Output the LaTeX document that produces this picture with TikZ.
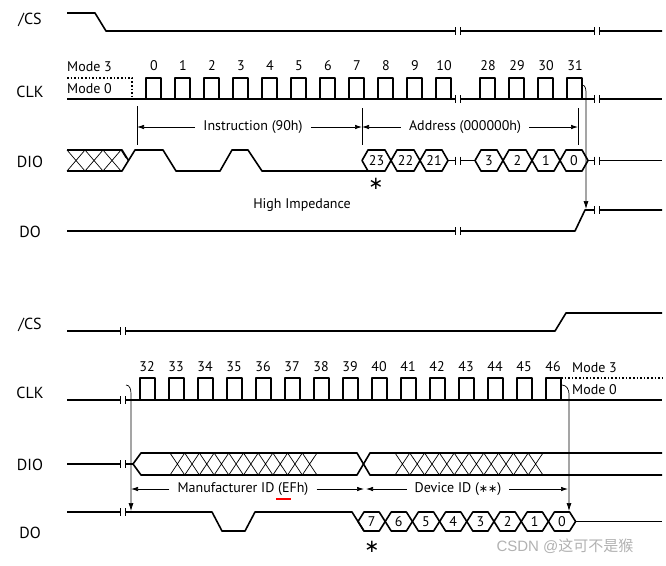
\documentclass[tikz,border=0pt]{standalone}
\usepackage{fontspec}
\setmainfont{PT Sans}
\newfontfamily\cjk{Noto Sans CJK SC}
\newfontfamily\dejavu{DejaVu Sans}
\usetikzlibrary{arrows.meta}
\tikzset{
 sig/.style={line width=1.6pt,line join=round},
 thinl/.style={line width=0.7pt},
 lab/.style={inner sep=0pt,font=\fontsize{14}{14}\selectfont},
 sname/.style={inner sep=0pt,font=\fontsize{16}{16}\selectfont},
 ast/.style={inner sep=0pt,font=\dejavu\fontsize{18}{18}\selectfont},
 dim/.style={line width=0.7pt,-{Latex[length=7pt,width=4.5pt]}},
 brd/.style={line width=0.7pt}
}
\newcommand\hexc[6]{\draw[sig] (#1,#3) -- (#1+6,#3-#4) -- (#2-6,#3-#4) -- (#2,#3) -- (#2-6,#3+#4) -- (#1+6,#3+#4) -- cycle;
 \node[lab] (#6) at ({(#1+#2)/2},#3) {#5};}
\newcommand\brk[2]{\fill[white] (#1-2.5,#2-3) rectangle (#1+2.5,#2+3);
 \draw[brd] (#1-2.5,#2-4) -- (#1-2.5,#2+4) (#1+2.5,#2-4) -- (#1+2.5,#2+4);}
\begin{document}
\begin{tikzpicture}[x=1pt,y=-1pt]
\fill[white] (0,0) rectangle (666,565);
\useasboundingbox (0,0) rectangle (666,565);
% ---------- top section ----------
\node[sname] (cs1) at (30,20) {/CS};
\node[sname] (clk1) at (30,92) {CLK};
\node[sname] (dio1) at (30,162) {DIO};
\node[sname] (do1) at (30,232) {DO};
% CS
\draw[sig] (67,13) -- (95,13) -- (106,31) -- (662,31);
\brk{458}{31}\brk{597}{31}
% CLK
\draw[sig] (67,99) -- (662,99);
\draw[line width=1.6pt,dotted] (67,78) -- (132,78) -- (132,99);
\node[lab,anchor=west] (m3a) at (67,67) {Mode 3};
\node[lab,anchor=west] (m0a) at (67,89) {Mode 0};
\foreach \k in {0,...,10}{
  \draw[sig] ({146+29*\k},99) -- ({146+29*\k},78) -- ({161+29*\k},78) -- ({161+29*\k},99);
  \node[lab] (ca\k) at ({154+29*\k},66) {\k};}
\foreach \k/\n in {0/28,1/29,2/30,3/31}{
  \draw[sig] ({480+29*\k},99) -- ({480+29*\k},78) -- ({495+29*\k},78) -- ({495+29*\k},99);
  \node[lab] (cb\n) at ({488+29*\k},66) {\n};}
\brk{458}{99}\brk{597}{99}
% brackets
\draw[thinl] (137,106) -- (137,145);
\draw[thinl] (362,108) -- (362,145);
\draw[thinl] (578,108) -- (578,145);
\node[lab] (ins) at (253,127) {Instruction (90h)};
\draw[dim] (ins.west)++(-8,0) -- (137,127);
\draw[dim] (ins.east)++(8,0) -- (362,127);
\node[lab] (adr) at (465,127) {Address (000000h)};
\draw[dim] (adr.west)++(-8,0) -- (362,127);
\draw[dim] (adr.east)++(8,0) -- (578,127);
% DIO
\draw[sig] (67,150) -- (122,150) -- (128.5,160.5);
\draw[sig] (67,171) -- (122,171) -- (135,150) -- (163,150) -- (176,171) -- (220,171) -- (232,150) -- (248,150) -- (262,171) -- (368,171);
\foreach \k in {0,1,2}{
  \draw[thinl] ({67+18*\k},150) -- ({85+18*\k},171) ({67+18*\k},171) -- ({85+18*\k},150);}
\draw[thinl] (121,150) -- (126,158);
\hexc{362}{391}{160.5}{10.5}{23}{h23}
\hexc{391}{420}{160.5}{10.5}{22}{h22}
\hexc{420}{448}{160.5}{10.5}{21}{h21}
\hexc{475}{503}{160.5}{10.5}{3}{h3}
\hexc{503}{532}{160.5}{10.5}{2}{h2}
\hexc{532}{560}{160.5}{10.5}{1}{h1}
\hexc{560}{588}{160.5}{10.5}{0}{h0}
\draw[sig] (448,160.5) -- (475,160.5);
\draw[sig] (588,160.5) -- (662,160.5);
\brk{458}{160.5}\brk{597}{160.5}
\node[ast] (ast1) at (376,184) {∗};
\node[lab] (hiz) at (302,205) {High Impedance};
% DO
\draw[sig] (67,231) -- (575,231) -- (585,210) -- (662,210);
\brk{458}{231}\brk{597}{210}
\draw[thinl,-{Latex[length=8pt,width=5pt]}] (582,85) to[out=0,in=90] (586,94) -- (586,209);
% ---------- bottom section ----------
\node[sname] (cs2) at (30,325) {/CS};
\node[sname] (clk2) at (30,393) {CLK};
\node[sname] (dio2) at (30,465) {DIO};
\node[sname] (do2) at (30,533) {DO};
\draw[sig] (67,331) -- (555,331) -- (566,313) -- (662,313);
\brk{123}{331}
% CLK
\draw[sig] (67,400) -- (662,400);
\draw[line width=1.6pt,dotted] (561,378) -- (662,378);
\node[lab,anchor=west] (m3b) at (572,368) {Mode 3};
\node[lab,anchor=west] (m0b) at (572,390) {Mode 0};
\foreach \k in {0,...,14}{
  \pgfmathtruncatemacro\n{32+\k}
  \draw[sig] ({140+29*\k},400) -- ({140+29*\k},378) -- ({155+29*\k},378) -- ({155+29*\k},400);
  \node[lab] (cc\n) at ({147+29*\k},367) {\n};}
\brk{123}{400}
% DIO
\draw[sig] (67,464) -- (133,464) -- (141,453) -- (357,453) -- (370,475) -- (662,475);
\draw[sig] (133,464) -- (141,475) -- (357,475) -- (370,453) -- (662,453);
\brk{123}{464}
\foreach \k in {0,...,9}{
  \draw[thinl] ({170+14.7*\k},453) -- ({184.7+14.7*\k},475) ({170+14.7*\k},475) -- ({184.7+14.7*\k},453);
  \draw[thinl] ({395+14.8*\k},453) -- ({409.8+14.8*\k},475) ({395+14.8*\k},475) -- ({409.8+14.8*\k},453);}
% brackets
\node[lab] (mid) at (243,489) {Manufacturer ID (EFh)};
\draw[red,line width=1.5pt] (276,499) -- (291,499);
\draw[dim] (mid.west)++(-8,0) -- (131,489);
\draw[dim] (mid.east)++(8,0) -- (364,489);
\node[lab] (did) at (458,489) {Device ID ({\dejavu\fontsize{11}{11}\selectfont ∗∗})};
\draw[dim] (did.west)++(-8,0) -- (366,489);
\draw[dim] (did.east)++(8,0) -- (568,489);
% DO
\draw[sig] (67,512) -- (212,512) -- (222,531) -- (245,531) -- (255,512) -- (352,512) -- (364,531);
\brk{123}{512}
\foreach \k/\t in {0/7,1/6,2/5,3/4,4/3,5/2,6/1,7/0}{
  \hexc{358+27.2*\k}{385.2+27.2*\k}{521.5}{9.5}{\t}{d\t}}
\draw[sig] (575.6,521.5) -- (662,521.5);
\node[ast] (ast2) at (372,547) {∗};
% arrows
\draw[thinl,-{Latex[length=8pt,width=5pt]}] (126,385) to[out=0,in=90] (131,394) -- (131,511);
\draw[thinl,-{Latex[length=8pt,width=5pt]}] (562,385) to[out=0,in=90] (569,394) -- (569,511);
\node[inner sep=0pt,text=gray!60,font=\fontsize{15}{15}\selectfont] (wm) at (565,546) {\fontspec{Liberation Sans}CSDN @\cjk 这可不是猴};
\end{tikzpicture}
\end{document}
